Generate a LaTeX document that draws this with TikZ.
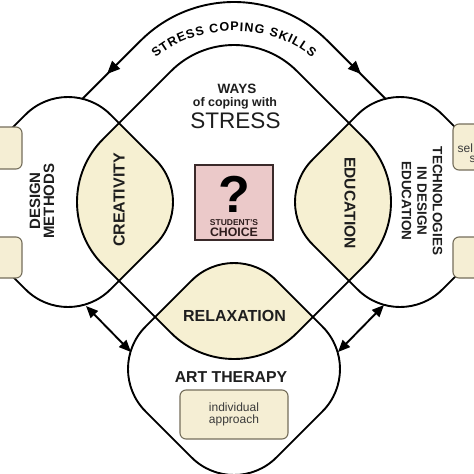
\documentclass[tikz,border=0pt]{standalone}
\usepackage{fontspec}
\setmainfont{Liberation Sans}
\usetikzlibrary{arrows.meta,decorations.text}
\definecolor{lensc}{HTML}{F6F0D2}
\definecolor{boxf}{HTML}{F5EED4}
\definecolor{boxb}{HTML}{756E5B}
\definecolor{qfill}{HTML}{EBC9C9}
\definecolor{qbord}{HTML}{3A2A2A}
\definecolor{qtxt}{HTML}{2E1C1C}
\definecolor{txt}{HTML}{1E1E1E}
\definecolor{btxt}{HTML}{3A3A3A}
\newcommand\myfs[2]{\fontsize{#1}{#2}\selectfont}
% rounded diamond: centre x, centre y, extreme distance E, corner radius r
\tikzset{
  rdia/.style n args={4}{insert path={
    [rounded corners=#4pt]
    ({#1+(#3+0.41421*#4)/2},{#2+(#3+0.41421*#4)/2})
    -- ({#1+#3+0.41421*#4},{#2})
    -- ({#1},{#2-#3-0.41421*#4})
    -- ({#1-#3-0.41421*#4},{#2})
    -- ({#1},{#2+#3+0.41421*#4})
    -- ({#1+(#3+0.41421*#4)/2},{#2+(#3+0.41421*#4)/2})}},
  outline/.style={draw=black, line width=1.9pt},
  lensfill/.style={fill=lensc},
  sidebox/.style={draw=boxb, fill=boxf, line width=1.1pt, rounded corners=6pt, inner sep=0pt},
  qbox/.style={draw=qbord, fill=qfill, line width=1.5pt, inner sep=0pt},
  lbl/.style={text=txt, inner sep=0pt},
  tipA/.style={-{Triangle[length=13pt,width=11pt]}, line width=1.9pt},
  tipB/.style={{Triangle[length=12pt,width=10pt]}-{Triangle[length=12pt,width=10pt]}, line width=1.9pt}
}
\begin{document}
\begin{tikzpicture}[x=1pt,y=-1pt]
\useasboundingbox (0,0) rectangle (474,474);
\fill[white] (0,0) rectangle (474,474);
% outer STRESS COPING SKILLS path
\begin{scope}
  \clip (0,0) rectangle (474,150);
  \draw[outline] [rdia={234}{202}{200}{132}];
\end{scope}
\fill[white] [rdia={68}{202}{105}{60}];
\fill[white] [rdia={400}{202}{105}{60}];
\coordinate (oa1) at (116,65);
\coordinate (oa2) at (107,74);
\coordinate (ob1) at (352,65);
\coordinate (ob2) at (361,74);
\draw[tipA] (oa1) -- (oa2);
\draw[tipA] (ob1) -- (ob2);
\path[decorate, decoration={text along path,
   text={|\myfs{12.5}{12.5}\bfseries|STRESS COPING SKILLS},
   text align=fit to path}]
   (156,58) .. controls (196,22) and (272,22) .. (312,58);
% lenses
\begin{scope}
  \clip [rdia={68}{202}{105}{60}];
  \fill[lensfill] [rdia={234}{202}{157}{89}];
\end{scope}
\begin{scope}
  \clip [rdia={400}{202}{105}{60}];
  \fill[lensfill] [rdia={234}{202}{157}{89}];
\end{scope}
\begin{scope}
  \clip [rdia={234}{369}{106}{60}];
  \fill[lensfill] [rdia={234}{202}{157}{89}];
\end{scope}
% outlines
\draw[outline] [rdia={234}{202}{157}{89}];
\draw[outline] [rdia={68}{202}{105}{60}];
\draw[outline] [rdia={400}{202}{105}{60}];
\draw[outline] [rdia={234}{369}{106}{60}];
% side boxes
\node[sidebox, minimum width=34pt, minimum height=42pt] (bL1) at (5,148) {};
\node[sidebox, minimum width=34pt, minimum height=41pt] (bL2) at (5,257.5) {};
\node[sidebox, minimum width=40pt, minimum height=46pt] (bR1) at (473,147) {};
\node[sidebox, minimum width=40pt, minimum height=41pt] (bR2) at (473,257.5) {};
\node[anchor=base west, inner sep=0pt, text=btxt, font=\myfs{12}{12}] (tR1) at (457.5,152) {sel};
\node[anchor=base west, inner sep=0pt, text=btxt, font=\myfs{12}{12}] (tR2) at (469.5,162) {s};
% central titles
\node[lbl, anchor=base, font=\myfs{13.5}{13.5}\bfseries] (ways) at (237,93) {WAYS};
\node[lbl, anchor=base, font=\myfs{12.4}{12.4}\bfseries] (ofc) at (235,106) {of coping with};
\node[lbl, anchor=base, font=\myfs{22.5}{22.5}] (stress) at (235.5,128) {STRESS};
% student's choice
\node[qbox, minimum width=78pt, minimum height=75pt] (choice) at (234,202.5) {};
\node[anchor=base, inner sep=0pt, text=black, font=\myfs{52}{52}\bfseries] (qm) at (234,212) {?};
\node[anchor=base, inner sep=0pt, text=qtxt, font=\myfs{8.5}{8.5}\bfseries] (stu) at (234,225) {STUDENT'S};
\node[anchor=base, inner sep=0pt, text=qtxt, font=\myfs{12.3}{12.3}\bfseries] (cho) at (234,236.5) {CHOICE};
% lens labels
\node[lbl, rotate=90, font=\myfs{16}{16}\bfseries] (cre) at (119,200) {CREATIVITY};
\node[lbl, rotate=-90, font=\myfs{15.6}{15.6}\bfseries] (edu) at (350,203) {EDUCATION};
\node[lbl, anchor=base, font=\myfs{16}{16}\bfseries] (rel) at (234.5,321) {RELAXATION};
% lobe labels
\node[lbl, rotate=90, align=center, font=\myfs{15}{14}\bfseries] (dm) at (42,201) {DESIGN\\METHODS};
\node[lbl, rotate=-90, align=center, font=\myfs{13.5}{15.5}\bfseries] (tde) at (422,201) {TECHNOLOGIES\\IN DESIGN\\EDUCATION};
\node[lbl, anchor=base, font=\myfs{15.8}{15.8}\bfseries] (art) at (231,382) {ART THERAPY};
\node[sidebox, minimum width=108pt, minimum height=49pt, align=center, text=btxt, font=\myfs{12}{12}] (ind) at (234,414.5) {individual\\approach};
% double arrows
\coordinate (dl1) at (86,306);
\coordinate (dl2) at (131,352);
\coordinate (dr1) at (384,305);
\coordinate (dr2) at (338,352);
\draw[tipB] (dl1) -- (dl2);
\draw[tipB] (dr1) -- (dr2);
\end{tikzpicture}
\end{document}
